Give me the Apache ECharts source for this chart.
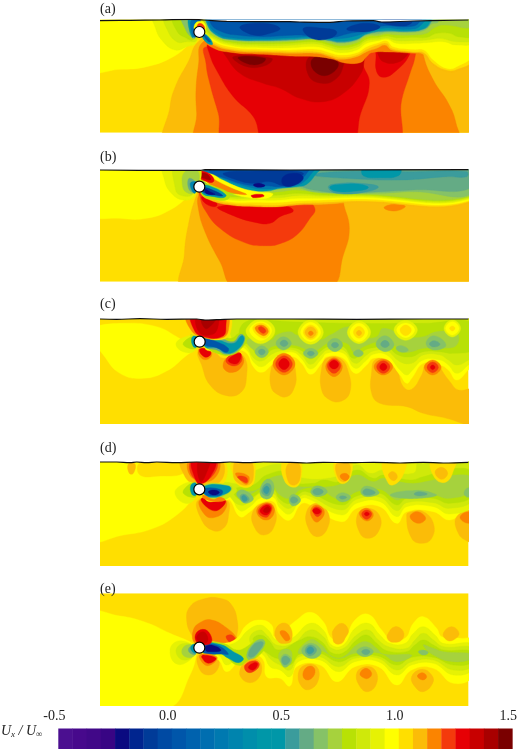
<!DOCTYPE html>
<html><head><meta charset="utf-8"><style>html,body{margin:0;padding:0;background:#fff}#c{width:520px;height:751px;filter:blur(0.45px)}</style>
<script src="https://cdn.jsdelivr.net/npm/echarts@6/dist/echarts.min.js"></script></head><body><div id="c"></div>
<script>
// Colour levels of U_x/U_inf: 32 bands from -0.5 to 1.5
const levelColors=['#4b0f90','#47098c','#410888','#380584','#0a0a80','#00258f','#003b98','#004aa3','#0056aa','#0062ae','#006eb0','#0079b0','#0084ae','#008eab','#0097a8','#0097a8','#3b9c9c','#64ab85','#86c267','#a6d23d','#b8e105','#cfe90a','#e6f204','#ffff00','#ffdf00','#fbbc08','#fb8400','#f43a0c','#e60005','#c80000','#a80000','#7a0000'];
const tickLabels=[-0.5,0.0,0.5,1.0,1.5];
const panelNames=['(a)','(b)','(c)','(d)','(e)'];
const backgroundLevel=24;
// Each region: [colour level index, outline as x,y pairs in domain units]
const regionsA=[
[23,[0,40,0,207,90,208,170,200,250,170,300,130,328,100,328,40]],
[25,[235,430,240,320,258,255,295,185,325,125,400,90,1200,90,1200,430]],
[26,[325,430,320,340,318,270,326,190,335,130,400,110,1000,120,1000,165,1030,240,1075,310,1098,370,1102,430]],
[27,[408,430,385,340,362,260,348,190,350,140,975,130,975,170,960,220,935,300,912,430]],
[28,[530,430,490,350,430,290,385,220,358,160,358,130,815,130,818,190,838,250,812,340,778,430]],
[28,[858,130,858,165,860,215,880,232,915,215,958,165,958,130]],
[29,[865,150,865,165,880,185,920,188,952,165,952,150]],
[29,[400,150,405,165,450,220,520,250,570,265,630,295,700,305,760,280,810,225,822,185,820,150]],
[30,[660,170,655,225,695,250,740,235,762,190,760,170]],
[31,[665,180,675,215,715,225,745,190,700,170]],
[30,[430,170,470,200,530,195,545,175]],
[31,[445,172,475,192,515,190,525,175]],
[26,[338,105,362,140,430,158,520,163,600,168,680,170,730,178,760,188,810,188,830,170,845,158,900,156,975,160,1000,160,1000,30,338,30]],
[25,[340,105,365,132,430,152,520,157,600,160,680,160,720,170,750,178,800,170,830,155,860,145,885,135,905,150,970,158,1000,163,1030,195,1070,215,1100,213,1150,180,1150,30,340,30]],
[24,[345,100,368,128,430,148,520,153,600,155,680,155,720,165,750,172,800,165,830,148,862,135,890,130,905,145,970,155,1002,158,1030,190,1070,210,1100,208,1150,175,1150,30,345,30]],
[23,[345,95,368,122,430,142,520,148,600,150,680,148,720,158,750,165,800,158,830,140,865,128,890,122,910,140,970,148,1002,150,1030,180,1070,205,1100,200,1150,160,1150,30,345,30]],
[22,[345,90,370,118,430,138,520,143,600,143,680,140,720,150,750,158,800,150,830,130,865,122,890,118,920,130,970,130,1010,128,1060,125,1100,135,1150,125,1150,30,345,30]],
[21,[345,88,372,115,430,133,520,138,600,136,680,132,720,142,750,150,800,142,830,123,865,118,890,114,920,122,970,122,1010,120,1050,115,1100,125,1150,115,1150,30,345,30]],
[20,[348,85,375,112,430,128,520,132,600,130,680,126,720,136,750,143,800,135,830,117,865,112,890,108,920,113,970,112,1010,112,1040,100,1080,100,1105,110,1150,105,1150,30,348,30]],
[19,[350,80,378,110,430,124,520,127,600,125,680,120,720,130,750,137,800,128,830,110,865,107,890,102,920,105,970,105,1010,100,1030,85,1060,75,1150,80,1150,30,350,30]],
[18,[352,75,380,108,430,120,520,123,600,121,680,116,720,124,750,130,800,122,830,105,865,102,890,97,930,97,970,97,1005,90,1025,72,1045,65,1045,30,352,30]],
[16,[352,73,382,107,430,119,520,122,600,120,680,116,720,122,750,127,800,119,830,103,890,94,950,95,1000,88,1022,68,1032,30,352,30]],
[14,[352,72,382,106,430,118,520,120,600,117,680,114,720,119,750,124,800,117,830,101,890,91,950,93,1000,86,1020,65,1030,30,352,30]],
[11,[355,70,385,103,430,114,520,116,600,113,680,110,720,115,760,115,810,104,880,85,950,88,990,78,1012,30,355,30]],
[8,[362,70,395,95,450,106,520,110,600,106,640,106,690,112,730,112,770,102,830,90,880,78,950,80,985,70,998,30,362,30]],
[6,[640,85,665,115,720,115,740,95,700,85]],
[6,[450,80,490,105,540,100,570,85,520,70]],
[6,[770,88,830,95,870,80,820,70]],
[6,[870,65,940,78,965,65,900,55]],
[22,[190,50,195,80,215,120,255,150,290,140,320,125,320,50]],
[21,[225,50,232,90,260,125,290,125,320,120,320,50]],
[20,[250,50,262,95,285,112,310,118,325,50]],
[18,[275,50,285,85,300,108,315,115,325,50]],
[15,[298,50,298,90,310,112,325,50]],
[10,[305,60,304,95,315,112,330,90,330,60]],
[14,[335,105,352,130,368,132,350,105]],
[8,[340,105,355,125,362,125,345,105]],
[23,[315,72,330,64,345,72,345,90,315,90]],
[27,[322,76,330,70,342,78,342,90,322,90]]
];
const regionsB=[
[23,[0,60,0,205,90,220,170,220,240,195,300,150,320,130,320,60]],
[25,[283,425,283,330,295,240,320,150,340,120,1200,120,1200,425]],
[26,[435,425,390,350,345,260,325,190,326,150,345,130,760,130,760,170,778,250,760,330,720,425]],
[26,[882,188,915,198,946,184,915,177]],
[27,[330,155,345,195,390,250,470,295,530,302,570,296,620,270,660,220,675,192,650,170,330,130]],
[28,[385,185,430,212,500,233,540,235,570,215,610,197,570,180]],
[28,[335,155,350,178,380,183,370,160]],
[25,[335,145,360,165,420,180,500,185,570,185,620,180,700,178,800,172,1150,168,1150,40,335,40]],
[24,[335,140,365,160,420,175,500,180,570,180,620,175,700,172,800,168,1150,165,1150,40,335,40]],
[23,[340,135,370,155,420,170,500,172,570,172,620,168,700,165,800,162,1150,162,1150,40,340,40]],
[22,[340,132,375,150,420,165,500,165,570,165,620,160,700,160,800,157,1150,158,1150,40,340,40]],
[21,[342,128,378,145,420,160,500,158,570,158,620,152,700,154,800,153,1150,155,1150,40,342,40]],
[20,[342,125,380,140,420,155,500,152,570,150,620,145,700,150,800,150,1150,152,1150,40,342,40]],
[19,[344,122,382,135,420,150,500,145,570,140,620,135,700,145,800,147,1150,150,1150,40,344,40]],
[18,[346,120,385,132,420,145,500,138,570,132,620,128,670,140,770,145,870,145,970,140,1150,145,1150,40,346,40]],
[17,[346,118,385,128,420,140,500,130,570,125,620,122,670,135,770,145,870,140,970,135,1150,125,1150,40,346,40]],
[16,[670,90,740,80,970,80,1130,80,1130,95,1070,95,930,105,770,100]],
[16,[715,125,750,115,810,115,865,125,830,140,740,145]],
[15,[720,125,760,118,810,118,835,128,800,138,735,138]],
[15,[820,70,930,70,925,92,870,98,820,92]],
[14,[340,70,345,85,385,100,430,120,480,135,530,138,570,130,620,125,650,118,680,85,700,60,340,60]],
[11,[350,60,352,85,390,97,435,115,485,128,530,132,570,128,615,122,640,112,665,85,680,60]],
[8,[360,60,365,88,400,98,450,115,490,122,530,122,570,125,610,118,630,105,650,85,660,60]],
[6,[400,85,440,105,490,115,540,110,580,122,610,118,625,100,640,85,600,78,500,78]],
[4,[490,120,505,115,525,122,505,127]],
[5,[580,95,620,85,640,100,610,122,580,120]],
[23,[330,90,360,86,400,106,450,128,500,140,548,146,530,160,480,158,430,148,385,130,350,115]],
[20,[365,112,400,122,450,142,420,147,385,132]],
[26,[350,92,385,110,430,132,470,148,430,144,385,128,350,110]],
[28,[484,151,515,148,522,154,490,158]],
[28,[315,95,322,82,345,80,370,98,368,112,345,108,332,102]],
[30,[322,90,335,84,352,88,362,104,340,100]],
[20,[336,118,375,125,415,145,415,162,380,165,336,150]],
[14,[338,122,372,128,408,150,400,158,372,155,338,146]],
[6,[340,128,368,135,398,152,372,150,340,142]],
[4,[345,133,360,140,375,148,350,146]],
[22,[220,60,222,100,240,140,280,165,315,150,325,60]],
[21,[255,60,255,125,270,150,310,145,325,60]],
[19,[285,80,278,125,295,145,315,140,325,80]],
[17,[298,100,295,128,310,142,322,120]],
[12,[303,112,303,130,315,145,325,115]]
];
const regionsC=[
[23,[0,100,100,85,200,95,260,125,300,150,320,155,285,185,230,228,160,250,90,235,40,180,0,120]],
[25,[325,170,335,210,360,270,410,302,455,290,470,240,465,190,440,175,400,190,370,170]],
[25,[545,215,543,275,565,300,590,305,610,285,618,240,600,190,560,190]],
[25,[695,220,695,285,720,315,755,318,780,290,775,230,750,190,710,190]],
[25,[845,230,845,295,870,325,950,335,1000,355,1070,370,1140,392,1160,392,1160,285,1105,285,1080,260,1055,225,1050,210,1010,205,995,240,965,283,940,275,920,225,890,195,855,195]],
[26,[400,205,405,225,430,232,455,215,460,190,440,175,415,185]],
[27,[408,195,425,212,450,205,455,180,440,172]],
[28,[415,195,435,207,450,195,450,175]],
[26,[325,165,335,190,355,192,365,175,345,160]],
[28,[328,165,342,185,358,183,362,170,345,160]],
[23,[350,120,345,160,370,170,405,180,440,165,470,175,490,215,515,232,545,210,570,190,610,185,635,205,662,238,695,205,710,185,760,190,795,235,830,210,850,190,890,195,930,240,950,265,965,250,1000,205,1050,210,1075,225,1100,255,1135,225,1150,210,1150,30,350,30]],
[22,[360,120,390,170,440,155,470,165,490,200,515,215,545,195,570,178,610,172,635,192,662,222,695,192,710,175,760,175,795,220,830,195,850,178,890,180,930,225,950,240,965,228,1000,195,1050,195,1075,210,1100,235,1135,210,1150,195,1150,30,420,30]],
[21,[430,150,450,148,470,155,490,188,515,198,545,178,570,168,610,165,635,180,662,208,695,178,710,165,760,165,795,205,830,180,850,168,890,168,930,200,965,205,1000,180,1050,180,1075,195,1100,210,1135,195,1150,180,1150,30,430,30]],
[20,[455,140,480,150,500,178,520,185,545,165,575,160,610,158,640,170,662,192,690,170,715,155,760,155,790,190,825,165,850,158,890,155,925,180,965,185,1000,170,1050,170,1090,175,1150,160,1150,85,1000,85,800,85,600,80,520,75,480,75,450,100]],
[19,[470,140,500,170,525,175,545,155,600,150,640,160,662,178,690,160,715,145,770,145,795,175,820,155,890,140,940,170,965,170,1000,160,1060,160,1100,150,1100,115,1040,110,1000,125,950,125,880,100,860,125,820,125,780,95,720,120,690,135,620,120,600,110,560,120,545,135,490,130]],
[18,[495,170,515,152,535,170,515,188]],[17,[505,170,515,162,526,170,515,180]],
[18,[558,145,580,125,604,145,580,165]],[17,[570,145,582,135,594,145,582,155]],
[18,[640,175,662,160,684,175,662,190]],[17,[652,175,662,168,673,175,662,183]],
[18,[712,150,735,130,758,150,735,170]],[17,[724,150,735,142,746,150,735,159]],
[18,[790,175,805,164,820,175,805,186]],
[18,[858,147,885,122,912,150,885,170]],[17,[872,148,885,136,898,148,885,158]],
[18,[918,160,935,152,955,165,935,172]],
[18,[1008,145,1032,122,1068,150,1032,165]],[17,[1018,147,1032,137,1050,148,1032,156]],
[22,[470,100,515,72,555,105,520,145,480,130]],[23,[480,100,515,80,545,105,520,135,490,125]],[24,[488,100,515,84,540,107,520,130]],[26,[495,100,515,90,535,108,520,122]],[27,[505,100,515,95,528,108,518,115]],
[22,[624,112,662,74,700,112,662,148]],[23,[632,112,662,82,692,112,662,140]],[24,[640,112,662,90,684,112,662,134]],[25,[645,112,662,95,679,112,662,129]],[26,[655,115,662,108,670,115,662,122]],
[22,[772,112,807,78,842,112,807,146]],[23,[780,112,807,85,834,112,807,140]],[24,[790,112,807,94,824,112,807,130]],[25,[799,114,807,106,815,114,807,122]],
[22,[912,105,947,76,982,105,947,136]],[23,[920,105,947,84,974,105,947,128]],[24,[930,105,947,90,964,105,947,122]],
[22,[1062,100,1087,74,1112,100,1087,126]],[23,[1067,100,1087,80,1107,100,1087,120]],[24,[1079,100,1087,93,1095,100,1087,108]],
[26,[549,207,582,175,615,207,582,240]],[27,[557,207,582,182,607,207,582,232]],[28,[566,207,582,190,598,207,582,224]],
[26,[707,215,732,188,757,215,732,245]],[27,[712,212,732,192,752,212,732,235]],[28,[718,209,732,196,746,209,732,222]],
[26,[852,215,880,192,908,215,880,240]],[27,[860,215,880,197,900,215,880,235]],[28,[869,216,880,205,891,216,880,227]],
[26,[1003,217,1028,195,1053,217,1028,240]],[27,[1011,217,1028,201,1045,217,1028,233]],[28,[1021,217,1028,210,1035,217,1028,224]],
[20,[345,120,400,125,425,130,450,115,470,130,455,160,425,180,390,178,350,155]],
[17,[345,123,392,130,430,140,452,118,465,130,445,165,410,178,380,165,345,155]],
[14,[345,125,385,135,430,145,455,122,462,135,440,165,410,175,380,158,345,155]],
[8,[345,130,380,140,415,160,410,172,380,158,345,150]],
[20,[300,125,310,115,318,150,305,165]],[22,[258,150,275,130,315,125,315,165,285,172]],[20,[280,150,295,130,318,125,318,160]],[14,[305,130,318,122,320,155,310,155]],
[24,[278,60,288,105,330,125,402,132,424,100,414,60]],
[26,[292,60,303,105,335,125,398,128,416,100,408,60]],
[28,[306,60,310,100,335,124,398,124,408,88,402,60]],
[29,[322,60,328,112,368,118,385,90,380,60]],
[30,[335,65,345,100,365,90,378,65]]
];
const regionsD=[
[23,[0,60,285,60,325,150,310,175,260,225,190,265,100,285,0,295]],
[25,[115,72,118,100,130,100,135,72]],
[24,[150,70,150,105,210,108,280,100,290,70]],
[25,[325,180,335,240,370,272,400,265,415,230,410,180]],
[26,[330,180,345,225,375,232,405,210,405,180]],
[28,[335,175,355,205,385,210,405,180]],
[25,[487,220,495,265,520,285,550,265,555,210,520,190]],
[23,[345,175,410,180,420,180,450,230,480,215,510,190,550,185,570,225,600,240,630,195,650,190,755,245,800,205,870,200,920,250,950,215,1030,215,1080,240,1135,205,1150,205,1150,30,345,30]],
[25,[650,215,655,265,680,290,710,270,715,220,680,190]],
[25,[802,225,810,280,835,295,865,275,870,230,835,205]],
[25,[950,225,965,295,995,310,1025,295,1030,250,1000,215,965,215]],
[25,[1100,230,1105,280,1135,305,1150,305,1150,215]],
[22,[345,160,415,165,450,212,480,200,510,175,550,172,570,205,600,222,630,180,650,175,755,225,800,190,870,185,920,230,950,200,1030,200,1080,222,1150,190,1150,30,345,30]],
[21,[400,130,420,170,450,195,480,185,510,160,550,160,570,190,600,205,630,170,650,165,755,210,800,178,870,172,920,212,950,188,1030,188,1080,205,1150,175,1150,60,990,60,970,100,880,90,840,100,800,75,740,110,620,110,590,75,500,90,460,130]],
[20,[430,150,460,185,490,170,520,150,550,148,570,178,600,190,630,160,650,155,755,195,800,168,870,160,920,195,950,175,1030,175,1080,190,1150,165,1150,100,1100,85,1000,110,960,120,880,105,850,115,800,90,745,125,700,120,670,130,610,125,590,95,530,105,490,135]],
[19,[450,155,465,170,495,155,530,135,550,140,570,165,600,175,630,150,680,145,755,180,800,155,870,148,920,180,950,165,1030,165,1080,175,1150,150,1150,115,1100,105,1030,120,960,130,880,115,850,125,800,105,745,135,670,140,610,135,590,110,540,115,500,150]],
[18,[597,180,610,163,632,180,610,198]],[17,[601,180,610,170,624,180,610,190]],
[18,[662,155,682,137,712,155,682,170]],[17,[668,155,682,145,700,155,682,165]],
[18,[738,172,757,158,782,172,757,186]],[17,[748,172,757,167,770,172,757,178]],
[18,[812,155,830,138,868,158,830,170]],[17,[818,157,830,146,856,158,830,166]],
[18,[900,165,960,152,1040,165,960,176]],
[18,[962,160,985,151,1028,162,985,171]],[17,[972,162,987,155,1012,162,987,168]],
[18,[1122,160,1135,143,1150,160,1135,172]],
[18,[440,160,460,150,490,175,470,190,452,180]],[17,[450,170,462,162,478,178,462,188]],[16,[455,172,462,166,472,178,462,184]],
[18,[510,150,530,118,550,130,545,170,520,175]],[17,[515,150,530,130,543,138,538,165,522,165]],[16,[520,150,530,138,538,148,530,162]],
[24,[310,60,290,100,340,130,400,130,400,60]],
[25,[275,60,280,100,310,130,390,125,392,60]],
[26,[298,60,308,115,370,118,385,60]],
[27,[305,60,312,115,360,115,380,60]],
[28,[308,60,316,118,330,132,360,112,375,60]],
[29,[325,60,332,125,355,85,358,60]],
[24,[425,70,430,105,445,135,480,140,495,110,485,60]],
[25,[430,95,440,125,475,135,490,110,480,60,440,60]],
[26,[437,100,455,125,472,132,475,108]],
[27,[443,110,460,125,472,127,468,112]],
[24,[580,60,585,125,620,140,635,100,628,60]],
[25,[592,75,595,125,615,135,630,115,625,70]],
[24,[735,60,742,120,765,130,785,100,780,60]],
[25,[740,70,745,115,765,125,780,100,775,70]],
[26,[750,108,765,100,778,110,765,122]],
[24,[880,60,895,130,920,130,945,90,945,60]],
[25,[895,105,910,95,922,110,910,122]],
[24,[1025,60,1035,115,1070,125,1095,80,1100,60]],
[25,[1035,97,1055,82,1073,100,1055,118]],
[26,[662,210,680,195,703,215,685,245,670,240]],[27,[668,210,680,200,696,213,682,230]],[28,[668,212,680,205,692,215,680,222]],
[26,[808,220,830,205,850,225,830,243]],[27,[815,222,830,210,845,222,830,238]],[28,[823,222,830,216,838,222,830,228]],
[26,[960,230,982,215,1007,235,985,250]],
[26,[1110,232,1135,215,1150,232,1135,250]],
[26,[500,215,520,190,548,195,550,225,525,240]],[27,[505,215,525,193,545,198,540,222,525,232]],[28,[510,213,530,195,543,205,530,225]],[29,[520,212,533,200,540,210,530,218]],
[21,[345,135,420,135,440,150,420,170,395,180,350,170]],
[19,[345,135,420,137,425,150,400,168,380,175,345,165]],
[14,[345,138,415,138,422,150,398,165,372,172,345,165]],
[8,[345,145,395,150,395,163,370,168,345,162]],
[4,[355,155,375,150,388,158,370,165]],
[26,[390,172,405,180,380,185,340,175,340,165,370,178]],
[22,[255,160,275,135,310,130,315,175,285,190]],[20,[280,160,295,135,318,130,318,170]],[14,[303,135,318,130,318,165,305,162]]
];
const regionsE=[
[23,[0,105,90,108,170,128,240,160,315,195,320,215,300,285,235,385,0,400]],
[25,[290,120,300,80,340,57,390,55,425,75,443,130,440,170,435,195,380,185,320,170,305,165]],
[26,[310,150,335,125,365,120,405,140,440,175,430,190,350,190,315,190]],
[27,[408,170,425,165,437,182,425,190]],
[25,[325,225,330,270,355,285,380,272,387,240,370,225]],
[23,[345,185,400,190,440,175,470,135,510,120,545,135,555,170,620,120,660,97,700,125,725,175,760,180,795,120,835,103,875,150,900,175,945,175,970,130,1000,110,1040,145,1055,170,1110,175,1150,180,1150,285,1090,310,1030,265,965,270,920,315,865,260,795,260,740,305,690,255,620,260,600,318,570,295,530,290,520,240,490,225,450,240,410,275,385,240,340,225]],
[22,[345,190,400,195,440,185,475,150,510,135,535,150,560,180,605,175,660,130,700,150,725,195,760,195,795,145,835,130,870,165,900,190,945,190,970,160,1000,140,1035,165,1060,190,1150,195,1150,265,1090,285,1030,250,965,255,920,285,865,245,795,245,745,275,690,240,625,245,600,290,570,270,540,260,520,225,490,212,450,225,410,255,385,225,340,220]],
[21,[480,170,510,150,530,165,560,195,610,190,660,150,700,170,725,205,760,205,800,165,835,150,865,180,895,200,950,205,975,180,1000,160,1030,180,1060,200,1150,205,1150,255,1090,270,1030,240,965,245,920,270,865,235,795,235,745,260,690,230,625,232,600,270,570,255,545,240,520,212,490,200]],
[20,[490,180,510,165,535,180,565,210,630,180,660,170,695,185,725,218,760,218,800,180,830,165,860,190,890,212,950,215,975,195,1000,180,1030,195,1060,210,1150,215,1150,245,1090,255,1030,232,965,232,920,255,865,228,795,228,745,245,690,220,630,222,600,255,575,240,545,228]],
[19,[625,220,660,180,695,195,725,230,760,230,800,195,830,185,860,205,880,222,965,225,920,245,870,220,795,220,745,235,690,212]],
[19,[1000,195,1030,205,1060,215,1150,222,1150,235,1090,245,1030,225]],
[19,[570,215,600,210,605,240,590,250,570,245]],
[18,[635,212,660,190,690,205,690,225,660,235]],
[17,[645,212,660,195,680,210,660,228]],[16,[650,212,660,200,672,210,660,222]],
[18,[800,215,825,200,850,215,825,230]],[17,[815,215,828,208,840,215,828,224]],
[18,[985,215,1000,210,1015,218,1000,225]],
[18,[572,240,585,222,605,240,585,262]],[17,[575,240,585,228,600,240,585,255]],
[20,[345,190,400,190,440,210,470,200,510,170,530,175,530,200,480,245,440,255,400,225,345,225]],
[18,[470,225,490,190,515,178,525,190,505,220,480,240]],
[17,[475,225,490,195,510,185,520,190,505,215,485,232]],
[14,[342,193,390,193,430,215,460,235,445,248,415,235,385,218,342,220]],
[8,[342,195,385,197,415,222,395,222,342,218]],
[4,[350,197,380,200,392,212,360,215,348,212]],
[22,[240,215,258,185,300,190,312,210,300,240,260,252]],
[21,[258,215,275,192,310,198,312,225,280,240]],
[19,[275,215,290,195,315,200,315,225,290,232]],
[17,[295,210,305,197,320,200,318,222,305,222]],
[14,[302,205,312,192,322,205,315,220]],
[25,[555,155,575,130,600,140,605,180,590,190,565,185]],[26,[570,155,585,153,600,175,590,183,580,175]],
[25,[730,150,755,130,775,150,765,175,755,190,735,190,728,170]],
[25,[892,165,915,140,940,155,935,180,910,187,895,180]],
[25,[1060,160,1085,140,1107,160,1090,180,1070,180]],
[25,[625,280,645,255,680,260,685,300,660,328,635,320]],[26,[640,275,660,258,675,270,665,295,645,298]],
[25,[800,280,825,260,855,270,860,310,835,335,810,320]],[26,[810,280,828,265,845,280,835,295,818,292]],
[25,[965,290,995,268,1025,285,1028,310,1000,335,975,320]],[26,[982,288,998,278,1010,290,998,300]],
[25,[450,270,455,295,480,308,505,295,515,260,500,238,470,245]],[27,[465,255,470,275,490,275,508,255,495,242]],[28,[475,262,490,270,503,252,492,248]],
[26,[330,225,345,255,370,250,380,230]],[28,[335,232,355,250,378,235,340,225]],
[28,[316,165,338,148,360,162,362,190,325,190]],[29,[320,170,338,155,352,168,350,188,328,185]]
];
const allRegions=[regionsA,regionsB,regionsC,regionsD,regionsE];
// Free surface profiles (x,y pairs in domain units)
const surfaceA=[30,62,120,61,210,60,300,58,340,60,410,64,600,65,630,66,720,67,770,63,850,62,875,66,970,63,1135,60];
const surfaceB=[30,75,200,76,330,76,345,74,600,75,1135,74];
const surfaceC=[30,72,80,73,150,71,230,73,320,72,345,75,380,74,440,72,600,72,800,73,1000,72,1135,72];
const surfaceD=[30,66,80,66,120,68,140,66,170,68,200,66,260,68,320,66,380,68,420,66,470,68,520,66,600,67,650,69,700,67,780,68,850,67,930,69,1000,67,1060,69,1135,67];
const allSurfaces=[surfaceA,surfaceB,surfaceC,surfaceD,null];
// Cylinder centres (x,y in domain units)
const cylinderX=[328,328,329,328,328];
const cylinderY=[96,125,140,148,203];
// domain extents of each panel
const xRange=[30,1135];
const yRanges=[[58,398],[72,410],[69,387],[63,378],[40,378]];
const cropTops=[0,145,295,440,580];

const chart=echarts.init(document.getElementById('c'),null,{renderer:'canvas'});
const grids=[],xAxes=[],yAxes=[],series=[],titles=[];
const regionRender=(regions,bg)=>(params,api)=>{
  const i=api.value(0);
  if(i<0){
    const tl=api.coord([xRange[0],yRanges[bg][0]]),br=api.coord([xRange[1],yRanges[bg][1]]);
    return {type:'rect',shape:{x:tl[0],y:tl[1],width:br[0]-tl[0],height:br[1]-tl[1]},style:{fill:levelColors[backgroundLevel]}};
  }
  const r=regions[i],pts=[];
  for(let k=0;k<r[1].length;k+=2)pts.push(api.coord([r[1][k],r[1][k+1]]));
  return {type:'polygon',shape:{points:pts,smooth:0.45},style:{fill:levelColors[r[0]],stroke:levelColors[r[0]],lineWidth:0.4}};
};
allRegions.forEach((regions,p)=>{
  const yr=yRanges[p];
  grids.push({left:100,width:(xRange[1]-xRange[0])/3,top:cropTops[p]+yr[0]/3,height:(yr[1]-yr[0])/3});
  xAxes.push({type:'value',gridIndex:p,min:xRange[0],max:xRange[1],show:false});
  yAxes.push({type:'value',gridIndex:p,min:yr[0],max:yr[1],inverse:true,show:false});
  series.push({type:'custom',xAxisIndex:p,yAxisIndex:p,clip:true,silent:true,animation:false,coordinateSystem:'cartesian2d',
    renderItem:regionRender(regions,p),encode:{x:0},data:[[-1],...regions.map((r,i)=>[i])]});
  const s=allSurfaces[p];
  if(s){
    const pts=[];for(let k=0;k<s.length;k+=2)pts.push([s[k],s[k+1]]);
    series.push({type:'custom',xAxisIndex:p,yAxisIndex:p,clip:true,silent:true,animation:false,z:3,
      renderItem:(params,api)=>({type:'polygon',shape:{points:[...pts,[xRange[1],yr[0]],[xRange[0],yr[0]]].map(q=>api.coord(q))},style:{fill:'#fff'}}),data:[[0]]});
    series.push({type:'line',xAxisIndex:p,yAxisIndex:p,data:pts,smooth:0.4,showSymbol:false,silent:true,animation:false,z:4,lineStyle:{color:'#111',width:1.2}});
  }
  series.push({type:'scatter',xAxisIndex:p,yAxisIndex:p,data:[[cylinderX[p],cylinderY[p]]],symbolSize:11,silent:true,animation:false,z:5,
    itemStyle:{color:'#fff',borderColor:'#000',borderWidth:1.2,opacity:1}});
});
const labelTops=[2,150,297,441,582];
panelNames.forEach((n,i)=>titles.push({text:n,left:100,top:labelTops[i],padding:0,textStyle:{fontFamily:'Liberation Serif',fontSize:14,fontWeight:'normal',color:'#222'}}));
titles.push({text:'{i|U}{s|x}{i| / U}{s|∞}',left:1,top:724,padding:0,textStyle:{fontWeight:'normal',rich:{i:{fontFamily:'Liberation Serif',fontStyle:'italic',fontWeight:'normal',fontSize:14,color:'#222'},s:{fontFamily:'Liberation Serif',fontStyle:'italic',fontWeight:'normal',fontSize:9,color:'#222',verticalAlign:'bottom',padding:[6,0,0,0]}}}});
// colour bar
const cb=allRegions.length;
grids.push({left:58.3,width:456.5,top:728.5,height:20.5});
xAxes.push({type:'value',gridIndex:cb,min:tickLabels[0],max:tickLabels[4],interval:0.5,position:'top',axisLine:{show:false},axisTick:{show:false},splitLine:{show:false},
  axisLabel:{show:true,margin:5,padding:[0,8,0,0],fontFamily:'Liberation Serif',fontSize:14,color:'#222',hideOverlap:false,showMinLabel:true,showMaxLabel:true,formatter:v=>v.toFixed(1)}});
yAxes.push({type:'value',gridIndex:cb,min:0,max:1,show:false});
const step=(tickLabels[4]-tickLabels[0])/levelColors.length;
series.push({type:'custom',xAxisIndex:cb,yAxisIndex:cb,silent:true,animation:false,
  renderItem:(params,api)=>{const i=api.value(0);const a=api.coord([tickLabels[0]+i*step,1]),b=api.coord([tickLabels[0]+(i+1)*step,0]);
    return {type:'rect',shape:{x:a[0],y:a[1],width:b[0]-a[0]+0.4,height:b[1]-a[1]},style:{fill:levelColors[i]}};},
  data:levelColors.map((c,i)=>[i])});
chart.setOption({animation:false,backgroundColor:'#fff',title:titles,grid:grids,xAxis:xAxes,yAxis:yAxes,series});
</script></body></html>
